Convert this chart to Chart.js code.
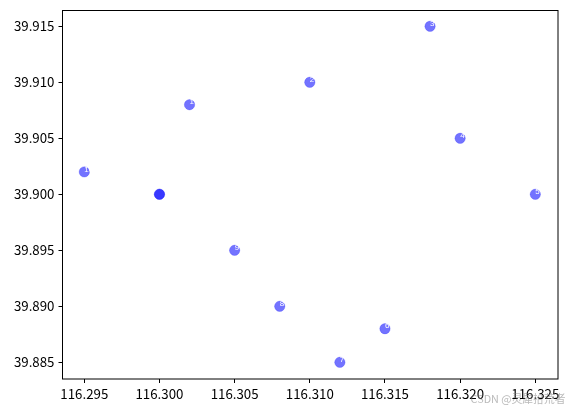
<!DOCTYPE html>
<html>
<head>
<meta charset="utf-8">
<script src="https://cdn.jsdelivr.net/npm/chart.js@4/dist/chart.umd.min.js"></script>
<style>
  html,body{margin:0;padding:0;background:#fff;}
  canvas{display:block;}
</style>
</head>
<body>
<canvas id="c" width="569" height="411"></canvas>
<script>
const cityLng = [116.302,116.310,116.318,116.320,116.325,116.315,116.312,116.308,116.305,116.295];
const cityLat = [39.908,39.910,39.915,39.905,39.900,39.888,39.885,39.890,39.895,39.902];
const cityLabels = ['1','2','3','4','5','6','7','8','9','10'];
const depotLng = [116.300];
const depotLat = [39.900];
const xTicks = [116.295,116.300,116.305,116.310,116.315,116.320,116.325];
const yTicks = [39.885,39.890,39.895,39.900,39.905,39.910,39.915];
const watermark = 'CSDN @灵犀拾荒者';

const tickFont = {family:"'Noto Sans CJK SC', sans-serif", size:13.3};

const frame = {
  id:'frame',
  afterDatasetsDraw(chart){
    const {ctx, chartArea:a, scales:{x,y}} = chart;
    ctx.save();
    ctx.strokeStyle = '#000';
    ctx.lineWidth = 1;
    ctx.strokeRect(a.left, a.top, a.right-a.left, a.bottom-a.top);
    // index labels, white so only the part over the marker shows
    ctx.fillStyle = '#fff';
    ctx.font = "8px 'Liberation Sans', sans-serif";
    ctx.textAlign = 'left';
    ctx.textBaseline = 'bottom';
    cityLabels.forEach((t,i) => ctx.fillText(t, x.getPixelForValue(cityLng[i]), y.getPixelForValue(cityLat[i])+1.5));
    // watermark
    ctx.fillStyle = 'rgba(130,130,130,0.55)';
    ctx.font = "10.8px 'Noto Sans CJK SC', sans-serif";
    ctx.textAlign = 'right';
    ctx.textBaseline = 'middle';
    ctx.fillText(watermark, 565.5, 399);
    ctx.restore();
  }
};

new Chart(document.getElementById('c'), {
  type:'scatter',
  data:{ datasets:[
    { data:cityLng.map((v,i)=>({x:v,y:cityLat[i]})),
      backgroundColor:'rgba(0,0,255,0.55)', borderColor:'rgba(0,0,255,0.2)', borderWidth:1, pointRadius:5.2, pointHoverRadius:5.2 },
    { data:depotLng.map((v,i)=>({x:v,y:depotLat[i]})),
      backgroundColor:'rgba(0,0,255,0.78)', borderColor:'rgba(0,0,255,0.4)', borderWidth:1, pointRadius:5.2, pointHoverRadius:5.2 }
  ]},
  plugins:[frame],
  options:{
    responsive:false, animation:false, devicePixelRatio:1,
    layout:{padding:{left:0,right:11,top:10.5,bottom:0}},
    plugins:{legend:{display:false}, tooltip:{enabled:false}},
    scales:{
      x:{
        type:'linear', min:116.29355, max:116.32651,
        afterBuildTicks:s=>{ s.ticks = xTicks.map(value=>({value})); },
        afterFit:s=>{ s.height = 32; s.paddingLeft = 0; s.paddingRight = 0; },
        grid:{drawOnChartArea:false, color:'#000', tickLength:4, tickWidth:1},
        border:{display:false},
        ticks:{color:'#000', font:tickFont, maxRotation:0, autoSkip:false, padding:3, callback:v=>v.toFixed(3)}
      },
      y:{
        type:'linear', min:39.88351, max:39.91641,
        afterBuildTicks:s=>{ s.ticks = yTicks.map(value=>({value})); },
        afterFit:s=>{ s.width = 62.5; s.paddingTop = 0; s.paddingBottom = 0; },
        grid:{drawOnChartArea:false, color:'#000', tickLength:4, tickWidth:1},
        border:{display:false},
        ticks:{color:'#000', font:tickFont, autoSkip:false, padding:4, callback:v=>v.toFixed(3)}
      }
    }
  }
});
</script>
</body>
</html>
